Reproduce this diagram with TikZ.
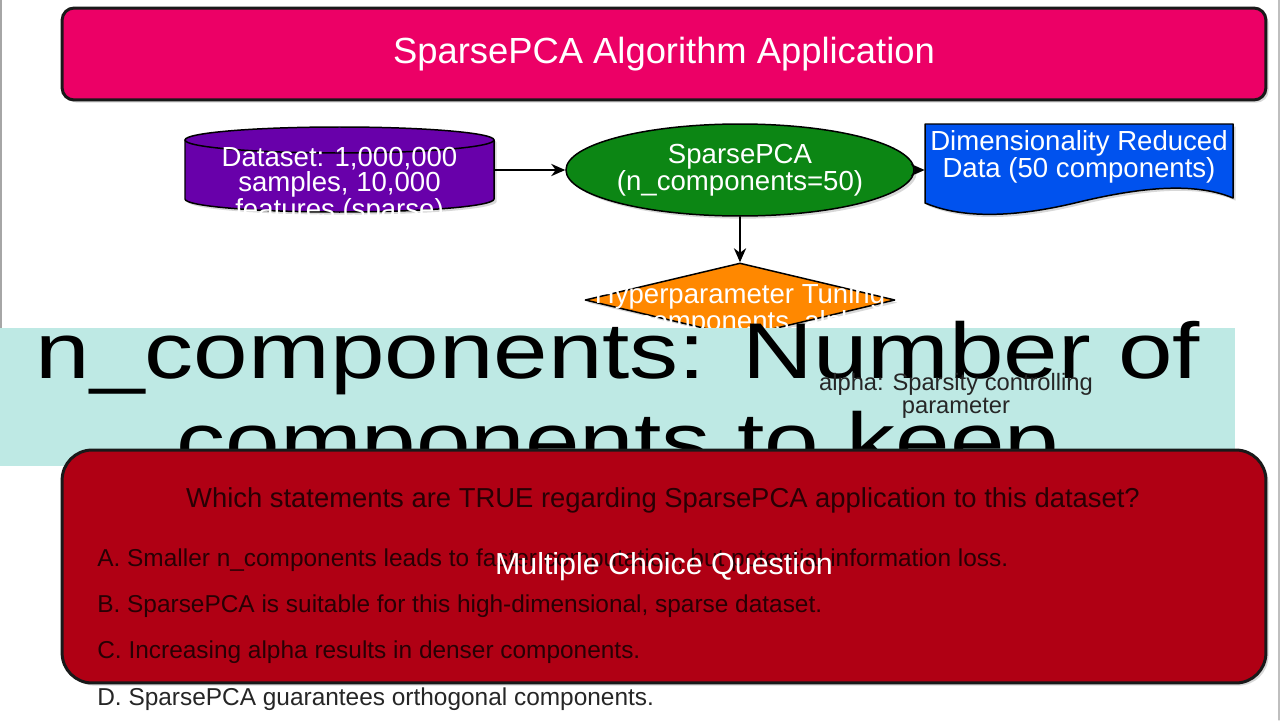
\documentclass[tikz,border=0pt]{standalone}
\usepackage{fontspec}
\setmainfont{Liberation Sans}
\newfontfamily\widesans{Liberation Sans}[FakeStretch=1.24]
\usetikzlibrary{shapes.geometric,arrows.meta,shadows}

\definecolor{titlefill}{RGB}{236,0,102}
\definecolor{datafill}{RGB}{104,0,170}
\definecolor{pcafill}{RGB}{12,134,20}
\definecolor{docfill}{RGB}{0,82,238}
\definecolor{tunefill}{RGB}{255,136,0}
\definecolor{bandfill}{RGB}{190,233,228}
\definecolor{mcqfill}{RGB}{176,0,20}
\definecolor{mcqtext}{RGB}{40,0,4}

\tikzset{
  softshadow/.style={drop shadow={shadow xshift=1.5pt,shadow yshift=-1.5pt,opacity=0.3}},
  flow/.style={line width=0.85pt,-{Stealth[length=8pt,width=7pt]}},
  shapeline/.style={draw=black,line width=0.85pt},
  flowtext/.style={text=white,align=center,font=\fontsize{15.7}{14}\selectfont},
  titlebox/.style={draw=black!90,line width=1.7pt,fill=titlefill,rounded corners=0.24cm,
    minimum width=24.08cm,minimum height=1.84cm,text=white,
    font=\fontsize{20.7}{24}\selectfont,softshadow},
  mcqbox/.style={draw=black!90,line width=1.7pt,fill=mcqfill,rounded corners=0.6cm,
    minimum width=24.08cm,minimum height=4.66cm,softshadow},
  opttext/.style={anchor=west,inner sep=0pt,text=mcqtext,font=\fontsize{13.9}{16}\selectfont}
}

\begin{document}
\begin{tikzpicture}[x=0.02cm,y=-0.02cm,line cap=round,line join=round]
  \useasboundingbox (0,0) rectangle (1280,720);
  \fill[white] (0,0) rectangle (1280,720);
  \draw[gray!70,line width=0.6pt] (1,0) -- (1,328);
  \draw[gray!50,line width=0.6pt] (1279,0) -- (1279,720);

  % heading
  \node[titlebox] (title) at (664,54) {SparsePCA Algorithm Application};

  % flow row
  \path[fill=datafill,shapeline,softshadow] (185,140) -- (185,199)
    arc[start angle=180,end angle=0,x radius=154.5,y radius=13] -- (494,140)
    arc[start angle=0,end angle=-180,x radius=154.5,y radius=13] -- cycle;
  \draw[shapeline] (185,140) arc[start angle=180,end angle=0,x radius=154.5,y radius=13];
  \node[flowtext,minimum width=6.18cm,inner xsep=0pt,font=\fontsize{15.7}{14.2}\selectfont]
    (data) at (339.5,186) {Dataset: 1,000,000\\samples, 10,000\\features (sparse)};

  \node[ellipse,shapeline,fill=pcafill,flowtext,minimum width=6.2cm,minimum height=1.84cm,
    inner sep=0pt,softshadow] (sparse) at (740,170) {SparsePCA\\(n\_components=50)};

  \path[fill=docfill,shapeline,softshadow] (925,124) -- (1233,124) -- (1233,198)
    .. controls (1190,180) and (1130,190) .. (1079,202)
    .. controls (1030,214) and (970,222) .. (925,203) -- cycle;
  \node[flowtext,minimum width=6.16cm,inner xsep=0pt] (reduced) at (1079,157)
    {Dimensionality Reduced\\Data (50 components)};

  \draw[flow] (data.east |- sparse.west) -- (sparse.west);
  \draw[flow] (sparse.east) -- (sparse.east -| reduced.west);

  % tuning step
  \node[diamond,shapeline,fill=tunefill,minimum width=6.2cm,minimum height=1.48cm,
    inner sep=0pt,softshadow] (tune) at (740,300) {};
  \node[flowtext] (tunelabel) at (740,310) {Hyperparameter Tuning\\(n\_components, alpha)};
  \draw[flow] (sparse.south) -- (tune.north);

  % explanation band
  \fill[bandfill] (0,328) rectangle (1235,466);
  \node[anchor=base,align=center,inner sep=0pt,font=\widesans\fontsize{45}{51}\selectfont]
    (keep) at (618,468) {n\_components: Number of\\components to keep};
  \node[align=center,text=black!85,font=\fontsize{13.5}{13}\selectfont]
    (alpha) at (956,396) {alpha: Sparsity controlling\\parameter};

  % question panel
  \node[mcqbox] (mcq) at (664,566.5) {};
  \node[text=mcqtext,font=\fontsize{15.6}{18}\selectfont] (question) at (663,500)
    {Which statements are TRUE regarding SparsePCA application to this dataset?};
  \node[opttext] (optA) at (97,560)
    {A. Smaller n\_components leads to faster computation, but potential information loss.};
  \node[opttext] (optB) at (97,606)
    {B. SparsePCA is suitable for this high-dimensional, sparse dataset.};
  \node[opttext] (optC) at (97,652)
    {C. Increasing alpha results in denser components.};
  \node[text=white,font=\fontsize{17.3}{20}\selectfont] (mcqlabel) at (mcq.center)
    {Multiple Choice Question};
  \node[opttext,text=black!85] (optD) at (97,699)
    {D. SparsePCA guarantees orthogonal components.};
\end{tikzpicture}
\end{document}
